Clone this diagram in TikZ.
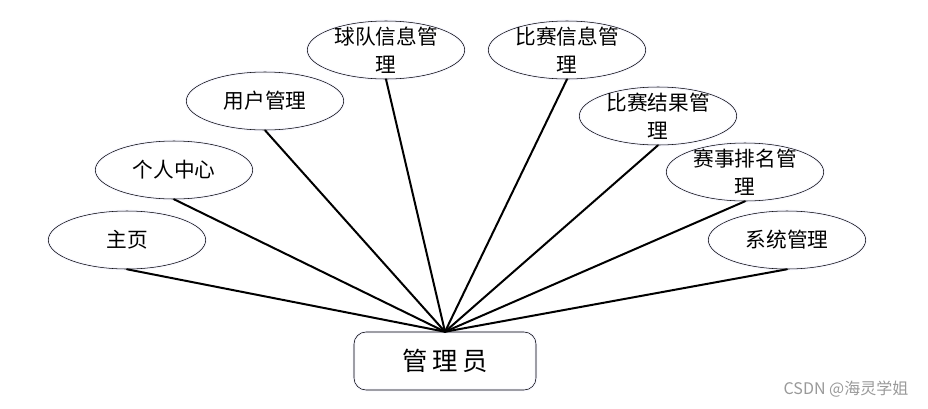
\documentclass[tikz,border=0pt]{standalone}
\usepackage{fontspec}
\setmainfont{Noto Sans CJK SC}
\newfontfamily\widecjk[LetterSpace=18]{Noto Sans CJK SC}
\usetikzlibrary{shapes.geometric}
\begin{document}
\begin{tikzpicture}[x=0.75pt,y=-0.75pt,
  func/.style={ellipse,draw,thin,minimum width=118pt,minimum height=43.5pt,inner sep=0pt,
    preaction={draw=blue!4,line width=2pt}},
  functext/.style={font=\fontsize{15.5}{21}\selectfont,align=center},
  link/.style={line width=1.5pt,line cap=round}]
\useasboundingbox (0,0) rectangle (928,408);
% admin
\node[draw,rounded corners=9pt,minimum width=136.5pt,minimum height=43.5pt,inner sep=0pt,
  preaction={draw=blue!4,line width=2pt},font=\fontsize{19}{22}\selectfont\widecjk] (admin) at (445,361) {管理员};
% functions
\node[func,label={[functext]center:主页}] (home) at (127,240) {};
\node[func,label={[functext]center:个人中心}] (center) at (174,170) {};
\node[func,label={[functext]center:用户管理}] (user) at (265,101) {};
\node[func,label={[functext]center:球队信息管\\理}] (team) at (386,50) {};
\node[func,label={[functext]center:比赛信息管\\理}] (match) at (567,50) {};
\node[func,label={[functext]center:比赛结果管\\理}] (result) at (658,116) {};
\node[func,label={[functext]center:赛事排名管\\理}] (rank) at (745,172) {};
\node[func,label={[functext]center:系统管理}] (system) at (787,240) {};
% links
\foreach \f in {home,center,user,team,match,result,rank,system}
  \draw[link] (\f.south) -- (admin.north);
\node[text=black!40,font=\fontsize{12}{14}\selectfont] (mark) at (846,389) {CSDN @海灵学姐};
\end{tikzpicture}
\end{document}
